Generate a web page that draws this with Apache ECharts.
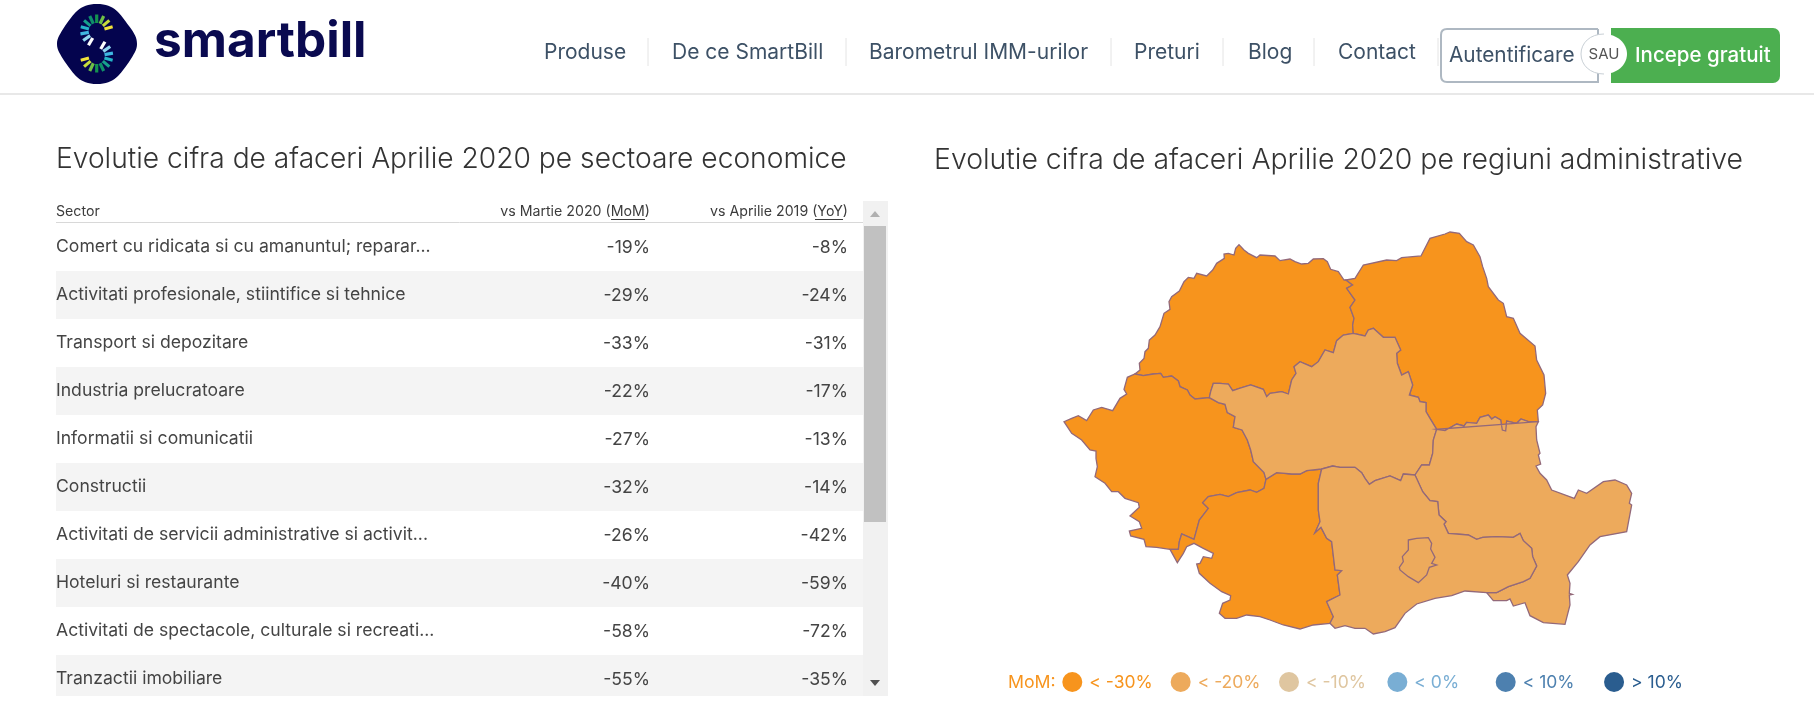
<!DOCTYPE html>
<html>
<head>
<meta charset="utf-8">
<title>Evolutie cifra de afaceri Aprilie 2020</title>
<style>
html,body{margin:0;padding:0;background:#fff;}
#chart{width:1814px;height:711px;}
</style>
<script src="https://cdn.jsdelivr.net/npm/echarts@6/dist/echarts.min.js"></script>
</head>
<body>
<div id="chart"></div>
<script>
// table data
const sectors = [
	"Comert cu ridicata si cu amanuntul; reparar...",
	"Activitati profesionale, stiintifice si tehnice",
	"Transport si depozitare",
	"Industria prelucratoare",
	"Informatii si comunicatii",
	"Constructii",
	"Activitati de servicii administrative si activit...",
	"Hoteluri si restaurante",
	"Activitati de spectacole, culturale si recreati...",
	"Tranzactii imobiliare",
];
const momValues = [-19, -29, -33, -22, -27, -32, -26, -40, -58, -55];
const yoyValues = [-8, -24, -31, -17, -13, -14, -42, -59, -72, -35];

// map data (values estimated from the colour class of each region)
const regionNames = ["Nord-Vest", "Nord-Est", "Vest", "Sud-Vest", "Centru", "Sud-Est", "Sud", "Bucuresti-Ilfov"];
const regionMom = [-34, -33, -35, -32, -27, -26, -28, -25];

// legend
const legendLabels = ["< -30%", "< -20%", "< -10%", "< 0%", "< 10%", "> 10%"];
const legendColors = ["#f7941d", "#edaa5c", "#dfc6a0", "#79aed4", "#4d80af", "#2a5d8f"];

// nav
const navItems = ["Produse", "De ce SmartBill", "Barometrul IMM-urilor", "Preturi", "Blog", "Contact"];
const navLeft = [544, 672, 869, 1134, 1248, 1338];
const navSeps = [648, 846, 1111, 1223, 1314, 1438];

const FONT = "Inter";

// region outlines, traced in pieces; numbers are offsets (x3) from a corner of the map area
const NW = [1040, 220], NE = [1340, 220], SW = [1040, 450], SE = [1340, 450];
function trace(corner, pts) {
	return pts.map((p) => [corner[0] + p[0] / 3, corner[1] + p[1] / 3]);
}
const arcNorthWest = trace(NW, [[912,180],[895,155],[872,148],[862,125],[850,116],[820,117],[805,130],[785,132],[765,125],[750,117],[720,122],[705,108],[660,105],[650,113],[625,100],[612,90],[597,74],[587,85],[582,105],[565,100],[552,102],[553,115],[530,130],[518,150],[500,168],[470,160],[462,175],[445,172],[432,185],[418,213],[395,230],[387,245],[390,268],[372,280],[360,320],[345,345],[328,360],[325,385],[315,395],[312,415],[298,430],[300,450],[285,462]]);
const arcNwVest = trace(NW, [[285,462],[310,467],[340,462],[362,460],[370,472],[395,468],[415,483],[420,500],[442,510],[450,525],[465,537],[508,533]]);
const arcNwCentru = trace(NW, [[508,533],[512,515],[520,490],[540,490],[565,492],[578,512],[598,505],[632,495],[670,508],[680,530],[690,520],[725,515],[745,522],[755,480],[768,460],[762,440],[780,425],[815,440],[835,425],[855,390],[880,398],[890,362],[910,345],[940,340]]);
const arcNwNe = trace(NE, [[40,340],[38,315],[42,295],[30,262],[45,240],[20,205],[38,195],[18,180]]);
const arcNorthEast = trace(NE, [[18,180],[45,175],[70,135],[140,120],[170,122],[185,113],[243,108],[270,55],[315,42],[330,36],[358,40],[380,65],[400,75],[420,110],[428,140],[440,175],[445,200],[475,240],[490,250],[500,290],[520,295],[540,340],[585,378],[590,420],[612,465],[617,520],[608,555],[592,570],[595,605]]);
const arcNeSudEst = trace(NE, [[595,605],[565,605],[543,597],[530,610],[500,603],[497,633],[487,630],[482,600],[465,590],[455,597],[445,585],[420,592],[410,610],[380,607],[372,618],[350,612],[315,632],[290,628]]);
const arcNeCentru = trace(NE, [[290,628],[270,595],[258,575],[258,548],[240,545],[235,532],[208,525],[218,495],[205,455],[185,465],[172,430],[170,400],[182,390],[165,352],[130,352],[100,325],[85,330],[75,348],[40,340]]);
const arcCentruSudEst = trace(NE, [[290,628],[280,660],[278,700]]).concat(trace(SE, [[268,45],[245,45],[225,75]]));
const arcCentruSud = trace(SE, [[225,75],[190,72],[182,92],[150,78],[105,92],[88,103],[75,85],[65,68],[45,52],[0,52]]).concat(trace(SW, [[878,48],[845,57]]));
const arcCentruOltenia = trace(SW, [[845,57],[800,62],[780,72],[755,72],[710,68],[678,88]]);
const arcVestCentru = trace(NW, [[508,533],[535,548],[555,553],[562,578],[585,590],[580,622],[606,630],[622,660],[632,690]]).concat(trace(SW, [[638,25],[640,35],[672,68],[678,88]]));
const arcVestOltenia = trace(SW, [[678,88],[672,115],[650,127],[630,120],[590,128],[565,140],[540,133],[505,140],[488,158],[505,175],[478,210],[462,268],[425,252],[418,275],[415,298],[390,298]]);
const arcVestOuter = trace(SW, [[390,298],[350,292],[318,290],[312,268],[272,258],[268,243],[305,235],[298,215],[270,198],[298,172],[295,158],[255,145],[235,125],[215,125],[195,100],[165,80],[172,50],[168,25],[168,3]]).concat(trace(NW, [[150,690],[125,660],[95,640],[72,605],[95,595],[115,587],[140,602],[160,570],[185,562],[218,572],[240,535],[260,522],[252,508],[262,472],[285,462]]));
const arcOlteniaOuter = trace(SW, [[390,298],[412,338],[430,310],[440,290],[462,280],[490,295],[520,310],[515,325],[490,320],[480,340],[470,342],[478,370],[510,400],[545,425],[572,437],[570,450],[548,460],[538,490],[555,505],[590,505],[620,495],[660,500],[690,510],[730,525],[780,537],[820,525],[870,520]]);
const arcOlteniaSud = trace(SW, [[845,57],[835,100],[835,180],[840,215],[825,248],[843,232],[860,265],[875,275],[885,360],[905,362],[892,375],[900,435],[860,455],[880,500],[870,520]]);
const arcSudOuter = trace(SW, [[870,520],[885,535],[915,527],[945,535]]).concat(trace(SE, [[75,535],[100,552],[135,545],[165,533],[195,490],[230,462],[285,445],[335,437],[375,423],[440,428]]));
const arcSudSudEst = trace(SE, [[225,75],[248,125],[270,152],[293,155],[297,195],[318,215],[312,222],[325,250],[385,255],[410,268],[428,262],[470,260],[520,262],[540,250],[550,272],[575,295],[578,320],[590,348],[570,385],[550,395],[505,410],[470,428],[440,428]]);
const arcSudEstOuter = trace(SE, [[440,428],[460,452],[500,452],[510,447],[520,468],[555,458],[570,497],[610,518],[675,523],[690,465],[688,435],[697,433],[688,430],[690,400],[682,375],[715,335],[750,285],[780,260],[860,245],[875,165],[868,160],[875,130],[860,105],[825,90],[790,95],[740,130],[715,120],[703,145],[635,120],[620,90],[600,70],[588,48],[602,42],[595,15]]).concat(trace(NE, [[600,700],[590,660],[588,620],[595,605]]));
const ringBucuresti = trace(SE, [[205,270],[230,265],[265,263],[275,280],[272,297],[285,322],[275,340],[290,345],[268,352],[260,375],[235,398],[205,380],[180,360],[178,352],[190,335],[187,320],[205,300],[205,270]]);

function rev(a) { return a.slice().reverse(); }
const regionRings = {
	"Nord-Vest": [arcNorthWest, arcNwVest, arcNwCentru, arcNwNe],
	"Nord-Est": [arcNorthEast, arcNeSudEst, arcNeCentru, arcNwNe],
	"Vest": [arcVestOuter, arcNwVest, arcVestCentru, arcVestOltenia],
	"Sud-Vest": [arcOlteniaOuter, rev(arcOlteniaSud), arcCentruOltenia, arcVestOltenia],
	"Centru": [arcNwCentru, rev(arcNeCentru), arcCentruSudEst, arcCentruSud, arcCentruOltenia, rev(arcVestCentru)],
	"Sud-Est": [rev(arcNeSudEst), arcCentruSudEst, arcSudSudEst, arcSudEstOuter],
	"Sud": [arcCentruSud, arcOlteniaSud, arcSudOuter, rev(arcSudSudEst)],
	"Bucuresti-Ilfov": [ringBucuresti],
};
const features = regionNames.map((name) => {
	const ring = [].concat(...regionRings[name]).map((p) => [p[0], -p[1]]);
	ring.push(ring[0]);
	return {type: "Feature", properties: {name: name}, geometry: {type: "Polygon", coordinates: [ring]}};
});
echarts.registerMap("regiuni", {type: "FeatureCollection", features: features});

let minX = 1e9, maxX = -1e9, minY = 1e9, maxY = -1e9;
features.forEach((f) => f.geometry.coordinates[0].forEach((p) => {
	minX = Math.min(minX, p[0]); maxX = Math.max(maxX, p[0]);
	minY = Math.min(minY, -p[1]); maxY = Math.max(maxY, -p[1]);
}));

echarts.graphic.registerShape("logoBlob", echarts.graphic.extendPath("M97 4C115 4 120 14 129 26C135 34 137 38 137 44C137 50 134 54 129 62C120 74 115 84 97 84C79 84 74 74 65 62C60 54 57 50 57 44C57 38 60 34 65 26C74 14 79 4 97 4Z"));
echarts.graphic.registerShape("loginBox", echarts.graphic.extendPath("M1598 29H1447Q1441 29 1441 35V76Q1441 82 1447 82H1598V29"));
echarts.graphic.registerShape("sauEdge", echarts.graphic.extendPath("M1604 34C1590 34 1581 43 1581 54C1581 65 1590 74 1604 74"));

function txt(x, y, text, fontSize, fill, align, weight) {
	return {
		type: "text", x: x, y: y, silent: true,
		style: {text: text, fontSize: fontSize, fontFamily: FONT, fontWeight: weight || 400, fill: fill, align: align || "left", verticalAlign: "middle"},
	};
}
function rect(x, y, w, h, fill, z) {
	return {type: "rect", shape: {x: x, y: y, width: w, height: h}, style: {fill: fill}, z: z || 5, silent: true};
}
function line(x1, y1, x2, y2, stroke, w) {
	return {type: "line", shape: {x1: x1, y1: y1, x2: x2, y2: y2}, style: {stroke: stroke, lineWidth: w || 1}, silent: true};
}

const graphics = [];
// header
graphics.push(rect(0, 93, 1814, 2, "#e8e8e8"));
graphics.push({type: "logoBlob", silent: true, shape: {}, style: {fill: "#04044e"}});
const rayColors = ["#f2e33a", "#c6dc3c", "#6fc046", "#14924f", "#0f8f6a", "#17a08c", "#25b4c8", "#3fb6e2", "#8fd6f0", "#ffffff"];
rayColors.forEach((c, i) => {
	const a = (15 + i * 25) * Math.PI / 180;
	[[96.7, 31, 1], [96.7, 56, -1]].forEach((o) => {
		graphics.push(line(o[0] + o[2] * 8 * Math.cos(a), o[1] - o[2] * 8 * Math.sin(a), o[0] + o[2] * 16.5 * Math.cos(a), o[1] - o[2] * 16.5 * Math.sin(a), c, 3.2));
	});
});
graphics.push(txt(154, 42, "smartbill", 49.5, "#0a0a50", "left", 700));
navItems.forEach((n, i) => {
	graphics.push(txt(navLeft[i], 53, n, 21, "#3d5166"));
	graphics.push(line(navSeps[i], 38, navSeps[i], 66, "#e4e4e4"));
});
graphics.push({type: "loginBox", silent: true, shape: {}, style: {fill: "#fff", stroke: "#aeb8c2", lineWidth: 2}});
graphics.push(txt(1449, 56, "Autentificare", 20.8, "#3d5166"));
graphics.push({type: "rect", silent: true, shape: {x: 1611, y: 28, width: 169, height: 55, r: [0, 7, 7, 0]}, style: {fill: "#4caf50"}});
graphics.push(txt(1635, 56, "Incepe gratuit", 20.5, "#fff", "left", 500));
graphics.push({type: "ellipse", silent: true, shape: {cx: 1604, cy: 54, rx: 23, ry: 20}, style: {fill: "#fff"}});
graphics.push({type: "sauEdge", silent: true, shape: {}, style: {fill: null, stroke: "#c9d0d6", lineWidth: 1}});
graphics.push(txt(1604, 54, "SAU", 15, "#555", "center"));
// table header and scrollbar
graphics.push(txt(56, 212, "Sector", 14.2, "#3c3c3c"));
graphics.push(txt(650, 212, "vs Martie 2020 (MoM)", 14.2, "#3c3c3c", "right"));
graphics.push(txt(848, 212, "vs Aprilie 2019 (YoY)", 14.2, "#3c3c3c", "right"));
graphics.push(line(611, 219.5, 645, 219.5, "#3c3c3c"));
graphics.push(line(815, 219.5, 843, 219.5, "#3c3c3c"));
graphics.push(line(56, 222.5, 863, 222.5, "#d8d8d8"));
graphics.push(rect(50, 696, 850, 15, "#fff", 20));
graphics.push(rect(863, 201, 25, 495, "#f1f1f1", 21));
graphics.push(rect(864, 226, 22, 296, "#c1c1c1", 22));
graphics.push({type: "polygon", silent: true, z: 22, shape: {points: [[870, 217], [880, 217], [875, 211]]}, style: {fill: "#b0b0b0"}});
graphics.push({type: "polygon", silent: true, z: 22, shape: {points: [[870, 680], [880, 680], [875, 686]]}, style: {fill: "#505050"}});
// legend
graphics.push(txt(1008, 683, "MoM:", 17.7, legendColors[0]));
legendLabels.forEach((l, i) => {
	const cx = 1072.3 + i * 108.35;
	graphics.push({type: "circle", silent: true, shape: {cx: cx, cy: 682, r: 10}, style: {fill: legendColors[i]}});
	graphics.push(txt(cx + 17, 683, l, 17.5, legendColors[i]));
});

function textColumn(values, colX) {
	return {
		type: "custom",
		coordinateSystem: "cartesian2d",
		data: values.map((v, i) => [colX, i, v]),
		silent: true,
		renderItem: (params, api) => {
			const pt = api.coord([api.value(0), api.value(1)]);
			return {
				type: "text", x: pt[0], y: pt[1] + 1,
				style: {text: api.value(2) + "%", fontSize: 17.6, fontFamily: FONT, fill: "#444", align: "right", verticalAlign: "middle"},
			};
		},
	};
}

const titleStyle = {fontFamily: FONT, fontWeight: 300, fontSize: 28.2, color: "#333"};
const option = {
	animation: false,
	backgroundColor: "#fff",
	title: [
		{text: "Evolutie cifra de afaceri Aprilie 2020 pe sectoare economice", left: 56, top: 146, padding: 0, textStyle: titleStyle},
		{text: "Evolutie cifra de afaceri Aprilie 2020 pe regiuni administrative", left: 934, top: 146, padding: 0, textStyle: Object.assign({}, titleStyle, {fontSize: 28.4})},
	],
	grid: {left: 56, top: 223, width: 807, height: 480},
	xAxis: {type: "value", min: 56, max: 863, show: false},
	yAxis: {
		type: "category", inverse: true, data: sectors,
		axisLine: {show: false}, axisTick: {show: false},
		axisLabel: {inside: true, margin: 0, padding: [2, 0, 0, 0], fontSize: 17.6, fontFamily: FONT, color: "#444"},
		splitLine: {show: false},
		splitArea: {show: true, areaStyle: {color: ["#ffffff", "#f4f4f4"]}},
	},
	visualMap: {
		show: false, type: "piecewise", seriesIndex: 2, dimension: 0,
		pieces: [
			{lt: -30, color: legendColors[0]},
			{gte: -30, lt: -20, color: legendColors[1]},
			{gte: -20, lt: -10, color: legendColors[2]},
			{gte: -10, lt: 0, color: legendColors[3]},
			{gte: 0, lt: 10, color: legendColors[4]},
			{gte: 10, color: legendColors[5]},
		],
	},
	series: [
		textColumn(momValues, 650),
		textColumn(yoyValues, 848),
		{
			type: "map", map: "regiuni", silent: true, roam: false, aspectScale: 1,
			left: minX, top: minY, width: maxX - minX, height: maxY - minY,
			label: {show: false},
			itemStyle: {borderColor: "#93697a", borderWidth: 1.3},
			data: regionNames.map((n, i) => ({name: n, value: regionMom[i]})),
		},
	],
	graphic: graphics,
};
const myChart = echarts.init(document.getElementById("chart"));
myChart.setOption(option);
</script>
</body>
</html>
